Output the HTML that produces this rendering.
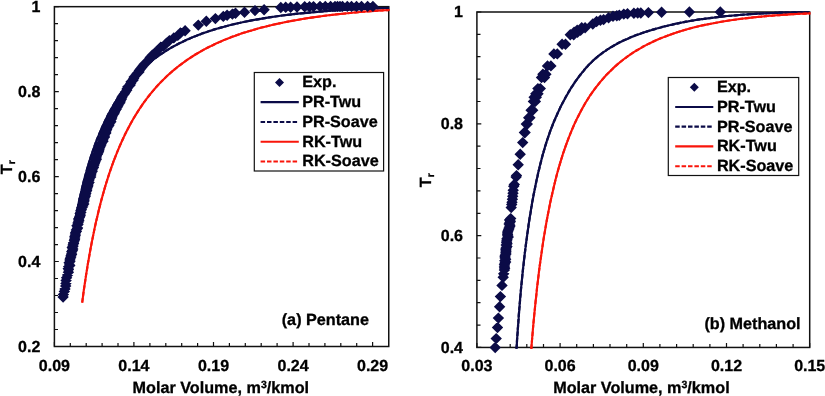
<!DOCTYPE html>
<html lang="en"><head><meta charset="utf-8"><title>Molar volume vs reduced temperature</title>
<style>
html,body{margin:0;padding:0;background:#fff;}
body{width:825px;height:396px;overflow:hidden;}
svg{display:block;}
text{font-family:"Liberation Sans",Arial,Helvetica,sans-serif;font-weight:bold;font-size:16px;fill:#000;stroke:#000;stroke-width:0.3px;text-rendering:geometricPrecision;}
.t2{font-size:16.2px;}
.ax{stroke:#111;stroke-width:1.5;fill:none;}
.tk{stroke:#111;stroke-width:1.2;fill:none;}
.nv{stroke:#0b0b47;stroke-width:2.2;fill:none;stroke-linejoin:round;}
.rd{stroke:#f9150a;stroke-width:2.1;fill:none;stroke-linejoin:round;}
.ds{stroke-dasharray:4.5 1.9;}
.dm{fill:#0b0b47;stroke:none;}
</style></head><body>
<svg width="825" height="396" viewBox="0 0 825 396">
<rect width="825" height="396" fill="#fff"/>
<rect class="ax" x="54.4" y="6.67" width="334.35" height="339.83"/>
<path class="tk" d="M70.3,346.5v-3.4M86.2,346.5v-3.4M102.1,346.5v-3.4M118.0,346.5v-3.4M149.9,346.5v-3.4M165.8,346.5v-3.4M181.7,346.5v-3.4M197.6,346.5v-3.4M229.4,346.5v-3.4M245.3,346.5v-3.4M261.2,346.5v-3.4M277.1,346.5v-3.4M309.0,346.5v-3.4M324.9,346.5v-3.4M340.8,346.5v-3.4M356.7,346.5v-3.4M54.4,346.5v-4.4M133.9,346.5v-4.4M213.5,346.5v-4.4M293.1,346.5v-4.4M372.6,346.5v-4.4M54.4,23.7h3.6M54.4,40.7h3.6M54.4,57.6h3.6M54.4,74.6h3.6M54.4,108.6h3.6M54.4,125.6h3.6M54.4,142.6h3.6M54.4,159.6h3.6M54.4,193.6h3.6M54.4,210.6h3.6M54.4,227.6h3.6M54.4,244.6h3.6M54.4,278.5h3.6M54.4,295.5h3.6M54.4,312.5h3.6M54.4,329.5h3.6M54.4,6.7h4.4M54.4,91.6h4.4M54.4,176.6h4.4M54.4,261.5h4.4M54.4,346.5h4.4"/>
<text x="54.4" y="371.4" text-anchor="middle">0.09</text>
<text x="133.9" y="371.4" text-anchor="middle">0.14</text>
<text x="213.5" y="371.4" text-anchor="middle">0.19</text>
<text x="293.1" y="371.4" text-anchor="middle">0.24</text>
<text x="372.6" y="371.4" text-anchor="middle">0.29</text>
<text x="40.3" y="11.7" text-anchor="end">1</text>
<text x="40.3" y="96.6" text-anchor="end">0.8</text>
<text x="40.3" y="181.6" text-anchor="end">0.6</text>
<text x="40.3" y="266.5" text-anchor="end">0.4</text>
<text x="40.3" y="351.5" text-anchor="end">0.2</text>
<rect class="ax" x="476.9" y="12.0" width="332.80" height="335.45"/>
<path class="tk" d="M493.5,347.45v-3.4M510.2,347.45v-3.4M526.8,347.45v-3.4M543.5,347.45v-3.4M576.7,347.45v-3.4M593.4,347.45v-3.4M610.0,347.45v-3.4M626.7,347.45v-3.4M659.9,347.45v-3.4M676.6,347.45v-3.4M693.2,347.45v-3.4M709.9,347.45v-3.4M743.1,347.45v-3.4M759.8,347.45v-3.4M776.4,347.45v-3.4M793.1,347.45v-3.4M476.9,347.45v-4.4M560.1,347.45v-4.4M643.3,347.45v-4.4M726.5,347.45v-4.4M809.7,347.45v-4.4M476.9,34.4h3.6M476.9,56.7h3.6M476.9,79.1h3.6M476.9,101.5h3.6M476.9,146.2h3.6M476.9,168.5h3.6M476.9,190.9h3.6M476.9,213.3h3.6M476.9,258.0h3.6M476.9,280.4h3.6M476.9,302.7h3.6M476.9,325.1h3.6M476.9,12.0h4.4M476.9,123.8h4.4M476.9,235.6h4.4M476.9,347.4h4.4"/>
<text x="476.9" y="371.4" text-anchor="middle">0.03</text>
<text x="560.1" y="371.4" text-anchor="middle">0.06</text>
<text x="643.3" y="371.4" text-anchor="middle">0.09</text>
<text x="726.5" y="371.4" text-anchor="middle">0.12</text>
<text x="809.7" y="371.4" text-anchor="middle">0.15</text>
<text x="463.0" y="17.2" text-anchor="end">1</text>
<text x="463.0" y="129.0" text-anchor="end">0.8</text>
<text x="463.0" y="240.8" text-anchor="end">0.6</text>
<text x="463.0" y="352.6" text-anchor="end">0.4</text>
<text class="t2" x="220.8" y="392.6" text-anchor="middle">Molar Volume, m<tspan font-size="10.5" dy="-4.8">3</tspan><tspan dy="4.8">/kmol</tspan></text>
<text class="t2" x="641.4" y="392.6" text-anchor="middle">Molar Volume, m<tspan font-size="10.5" dy="-4.8">3</tspan><tspan dy="4.8">/kmol</tspan></text>
<text class="t2" transform="translate(11.5,174.2) rotate(-90)">T<tspan font-size="10.5" dy="3.5">r</tspan></text>
<text class="t2" transform="translate(430.9,187.2) rotate(-90)">T<tspan font-size="10.5" dy="3.5">r</tspan></text>
<text class="t2" x="369" y="325.3" text-anchor="end">(a) Pentane</text>
<text class="t2" x="800.6" y="328.7" text-anchor="end">(b) Methanol</text>
<defs><clipPath id="ca"><rect x="40" y="0" width="349.45" height="360"/></clipPath><clipPath id="cb"><rect x="460" y="0" width="350.40" height="360"/></clipPath></defs>
<g clip-path="url(#ca)">
<path class="nv" d="M64.3,297.0 L64.4,296.4 L65.0,291.0 L65.6,285.6 L66.2,280.3 L66.9,274.9 L67.6,269.5 L68.3,264.1 L69.0,258.8 L69.8,253.4 L70.6,248.0 L71.4,242.6 L72.3,237.3 L73.2,231.9 L74.1,226.5 L75.1,221.1 L76.1,215.8 L77.2,210.4 L78.3,205.0 L79.4,199.6 L80.7,194.3 L81.9,188.9 L83.2,183.5 L84.6,178.1 L86.1,172.8 L87.6,167.4 L89.2,162.0 L90.9,156.6 L92.7,151.3 L94.6,145.9 L96.6,140.5 L98.8,135.1 L101.0,129.8 L103.4,124.4 L106.0,119.0 L108.7,113.6 L111.7,108.3 L114.8,102.9 L118.3,97.5 L122.0,92.1 L126.0,86.8 L130.4,81.4 L135.2,76.0 L140.5,70.6 L146.3,65.3 L152.9,59.9 L160.3,54.5 L168.8,49.1 L172.4,47.0 L174.1,46.1 L175.8,45.2 L177.6,44.2 L179.4,43.3 L181.3,42.4 L183.2,41.5 L185.2,40.5 L187.2,39.6 L189.3,38.7 L191.4,37.8 L193.7,36.8 L196.0,35.9 L198.3,35.0 L200.8,34.1 L203.3,33.1 L206.0,32.2 L208.7,31.3 L211.6,30.4 L214.5,29.4 L217.6,28.5 L220.8,27.6 L224.2,26.7 L227.7,25.7 L231.4,24.8 L235.2,23.9 L239.3,23.0 L243.5,22.0 L248.1,21.1 L252.8,20.2 L257.9,19.3 L263.4,18.3 L269.2,17.4 L275.5,16.5 L282.3,15.5 L289.7,14.6 L297.8,13.7 L306.9,12.8 L317.1,11.8 L328.8,10.9 L331.8,10.7 L332.9,10.6 L334.1,10.5 L335.3,10.5 L336.5,10.4 L337.7,10.3 L338.9,10.2 L340.2,10.1 L341.5,10.1 L342.8,10.0 L344.1,9.9 L345.5,9.8 L346.8,9.7 L348.2,9.7 L349.7,9.6 L351.1,9.5 L352.6,9.4 L354.1,9.3 L355.7,9.3 L357.3,9.2 L358.9,9.1 L360.5,9.0 L362.2,8.9 L364.0,8.9 L365.8,8.8 L367.6,8.7 L369.5,8.6 L371.4,8.5 L373.4,8.4 L375.4,8.4 L377.6,8.3 L379.7,8.2 L382.0,8.1 L384.3,8.0 L386.8,8.0 L389.3,7.9"/>
<path class="nv ds" d="M64.3,297.0 L64.4,296.4 L65.0,291.0 L65.6,285.6 L66.2,280.3 L66.9,274.9 L67.6,269.5 L68.3,264.1 L69.0,258.8 L69.8,253.4 L70.6,248.0 L71.4,242.6 L72.3,237.3 L73.2,231.9 L74.1,226.5 L75.1,221.1 L76.1,215.8 L77.2,210.4 L78.3,205.0 L79.4,199.6 L80.7,194.3 L81.9,188.9 L83.2,183.5 L84.6,178.1 L86.1,172.8 L87.6,167.4 L89.2,162.0 L90.9,156.6 L92.7,151.3 L94.6,145.9 L96.6,140.5 L98.8,135.1 L101.0,129.8 L103.4,124.4 L106.0,119.0 L108.7,113.6 L111.7,108.3 L114.8,102.9 L118.3,97.5 L122.0,92.1 L126.0,86.8 L130.4,81.4 L135.2,76.0 L140.5,70.6 L146.3,65.3 L152.9,59.9 L160.3,54.5 L168.8,49.1 L172.4,47.0 L174.1,46.1 L175.8,45.2 L177.6,44.2 L179.4,43.3 L181.3,42.4 L183.2,41.5 L185.2,40.5 L187.2,39.6 L189.3,38.7 L191.4,37.8 L193.7,36.8 L196.0,35.9 L198.3,35.0 L200.8,34.1 L203.3,33.1 L206.0,32.2 L208.7,31.3 L211.6,30.4 L214.5,29.4 L217.6,28.5 L220.8,27.6 L224.2,26.7 L227.7,25.7 L231.4,24.8 L235.2,23.9 L239.3,23.0 L243.5,22.0 L248.1,21.1 L252.8,20.2 L257.9,19.3 L263.4,18.3 L269.2,17.4 L275.5,16.5 L282.3,15.5 L289.7,14.6 L297.8,13.7 L306.9,12.8 L317.1,11.8 L328.8,10.9 L331.8,10.7 L332.9,10.6 L334.1,10.5 L335.3,10.5 L336.5,10.4 L337.7,10.3 L338.9,10.2 L340.2,10.1 L341.5,10.1 L342.8,10.0 L344.1,9.9 L345.5,9.8 L346.8,9.7 L348.2,9.7 L349.7,9.6 L351.1,9.5 L352.6,9.4 L354.1,9.3 L355.7,9.3 L357.3,9.2 L358.9,9.1 L360.5,9.0 L362.2,8.9 L364.0,8.9 L365.8,8.8 L367.6,8.7 L369.5,8.6 L371.4,8.5 L373.4,8.4 L375.4,8.4 L377.6,8.3 L379.7,8.2 L382.0,8.1 L384.3,8.0 L386.8,8.0 L389.3,7.9"/>
<path class="rd" d="M82.2,302.6 L82.3,301.8 L83.0,296.4 L83.7,291.0 L84.5,285.6 L85.3,280.3 L86.1,274.9 L87.0,269.5 L87.8,264.1 L88.8,258.8 L89.7,253.4 L90.7,248.0 L91.7,242.6 L92.8,237.3 L93.9,231.9 L95.0,226.5 L96.2,221.1 L97.5,215.8 L98.7,210.4 L100.1,205.0 L101.5,199.6 L103.0,194.3 L104.5,188.9 L106.1,183.5 L107.8,178.1 L109.5,172.8 L111.4,167.4 L113.3,162.0 L115.4,156.6 L117.5,151.3 L119.8,145.9 L122.2,140.5 L124.7,135.1 L127.4,129.8 L130.2,124.4 L133.2,119.0 L136.5,113.6 L139.9,108.3 L143.6,102.9 L147.6,97.5 L151.9,92.1 L156.5,86.8 L161.5,81.4 L167.0,76.0 L173.1,70.6 L179.7,65.3 L187.1,59.9 L195.4,54.5 L204.8,49.1 L208.9,47.0 L210.8,46.1 L212.7,45.2 L214.6,44.2 L216.6,43.3 L218.7,42.4 L220.8,41.5 L222.9,40.5 L225.1,39.6 L227.4,38.7 L229.8,37.8 L232.2,36.8 L234.7,35.9 L237.3,35.0 L240.0,34.1 L242.7,33.1 L245.6,32.2 L248.6,31.3 L251.6,30.4 L254.8,29.4 L258.1,28.5 L261.6,27.6 L265.2,26.7 L268.9,25.7 L272.9,24.8 L277.0,23.9 L281.3,23.0 L285.8,22.0 L290.6,21.1 L295.7,20.2 L301.0,19.3 L306.8,18.3 L312.9,17.4 L319.5,16.5 L326.6,15.5 L334.3,14.6 L342.7,13.7 L352.1,12.8 L362.7,11.8 L374.7,10.9 L377.7,10.7 L378.9,10.6 L380.1,10.5 L381.3,10.5 L382.6,10.4 L383.8,10.3 L385.1,10.2 L386.4,10.1 L387.7,10.1 L389.0,10.0 L390.4,9.9"/>
<path class="rd ds" d="M82.2,302.6 L82.3,301.8 L83.0,296.4 L83.7,291.0 L84.5,285.6 L85.3,280.3 L86.1,274.9 L87.0,269.5 L87.8,264.1 L88.8,258.8 L89.7,253.4 L90.7,248.0 L91.7,242.6 L92.8,237.3 L93.9,231.9 L95.0,226.5 L96.2,221.1 L97.5,215.8 L98.7,210.4 L100.1,205.0 L101.5,199.6 L103.0,194.3 L104.5,188.9 L106.1,183.5 L107.8,178.1 L109.5,172.8 L111.4,167.4 L113.3,162.0 L115.4,156.6 L117.5,151.3 L119.8,145.9 L122.2,140.5 L124.7,135.1 L127.4,129.8 L130.2,124.4 L133.2,119.0 L136.5,113.6 L139.9,108.3 L143.6,102.9 L147.6,97.5 L151.9,92.1 L156.5,86.8 L161.5,81.4 L167.0,76.0 L173.1,70.6 L179.7,65.3 L187.1,59.9 L195.4,54.5 L204.8,49.1 L208.9,47.0 L210.8,46.1 L212.7,45.2 L214.6,44.2 L216.6,43.3 L218.7,42.4 L220.8,41.5 L222.9,40.5 L225.1,39.6 L227.4,38.7 L229.8,37.8 L232.2,36.8 L234.7,35.9 L237.3,35.0 L240.0,34.1 L242.7,33.1 L245.6,32.2 L248.6,31.3 L251.6,30.4 L254.8,29.4 L258.1,28.5 L261.6,27.6 L265.2,26.7 L268.9,25.7 L272.9,24.8 L277.0,23.9 L281.3,23.0 L285.8,22.0 L290.6,21.1 L295.7,20.2 L301.0,19.3 L306.8,18.3 L312.9,17.4 L319.5,16.5 L326.6,15.5 L334.3,14.6 L342.7,13.7 L352.1,12.8 L362.7,11.8 L374.7,10.9 L377.7,10.7 L378.9,10.6 L380.1,10.5 L381.3,10.5 L382.6,10.4 L383.8,10.3 L385.1,10.2 L386.4,10.1 L387.7,10.1 L389.0,10.0 L390.4,9.9"/>
<path class="dm" d="M63.1,291.4l5.7,5.7l-5.7,5.7l-5.7,-5.7zM63.4,288.7l5.7,5.7l-5.7,5.7l-5.7,-5.7zM64.3,285.9l5.7,5.7l-5.7,5.7l-5.7,-5.7zM65.0,283.2l5.7,5.7l-5.7,5.7l-5.7,-5.7zM65.7,280.4l5.7,5.7l-5.7,5.7l-5.7,-5.7zM65.9,277.7l5.7,5.7l-5.7,5.7l-5.7,-5.7zM66.1,274.9l5.7,5.7l-5.7,5.7l-5.7,-5.7zM66.6,272.1l5.7,5.7l-5.7,5.7l-5.7,-5.7zM67.6,269.4l5.7,5.7l-5.7,5.7l-5.7,-5.7zM68.4,266.6l5.7,5.7l-5.7,5.7l-5.7,-5.7zM68.5,263.9l5.7,5.7l-5.7,5.7l-5.7,-5.7zM68.2,262.5l5.7,5.7l-5.7,5.7l-5.7,-5.7zM68.6,261.1l5.7,5.7l-5.7,5.7l-5.7,-5.7zM69.8,259.8l5.7,5.7l-5.7,5.7l-5.7,-5.7zM69.5,258.4l5.7,5.7l-5.7,5.7l-5.7,-5.7zM69.1,257.0l5.7,5.7l-5.7,5.7l-5.7,-5.7zM70.0,255.6l5.7,5.7l-5.7,5.7l-5.7,-5.7zM69.9,254.3l5.7,5.7l-5.7,5.7l-5.7,-5.7zM70.3,252.9l5.7,5.7l-5.7,5.7l-5.7,-5.7zM70.7,251.5l5.7,5.7l-5.7,5.7l-5.7,-5.7zM70.9,250.2l5.7,5.7l-5.7,5.7l-5.7,-5.7zM71.6,248.8l5.7,5.7l-5.7,5.7l-5.7,-5.7zM71.6,247.4l5.7,5.7l-5.7,5.7l-5.7,-5.7zM71.7,246.0l5.7,5.7l-5.7,5.7l-5.7,-5.7zM72.4,244.7l5.7,5.7l-5.7,5.7l-5.7,-5.7zM72.8,243.3l5.7,5.7l-5.7,5.7l-5.7,-5.7zM72.2,241.9l5.7,5.7l-5.7,5.7l-5.7,-5.7zM73.0,240.6l5.7,5.7l-5.7,5.7l-5.7,-5.7zM73.0,239.2l5.7,5.7l-5.7,5.7l-5.7,-5.7zM73.6,237.8l5.7,5.7l-5.7,5.7l-5.7,-5.7zM73.5,236.5l5.7,5.7l-5.7,5.7l-5.7,-5.7zM74.3,235.1l5.7,5.7l-5.7,5.7l-5.7,-5.7zM74.6,233.7l5.7,5.7l-5.7,5.7l-5.7,-5.7zM74.8,232.3l5.7,5.7l-5.7,5.7l-5.7,-5.7zM74.8,231.0l5.7,5.7l-5.7,5.7l-5.7,-5.7zM75.3,229.6l5.7,5.7l-5.7,5.7l-5.7,-5.7zM75.4,228.2l5.7,5.7l-5.7,5.7l-5.7,-5.7zM75.6,226.9l5.7,5.7l-5.7,5.7l-5.7,-5.7zM76.5,225.5l5.7,5.7l-5.7,5.7l-5.7,-5.7zM76.3,224.2l5.7,5.7l-5.7,5.7l-5.7,-5.7zM77.4,222.8l5.7,5.7l-5.7,5.7l-5.7,-5.7zM77.6,221.4l5.7,5.7l-5.7,5.7l-5.7,-5.7zM76.9,220.1l5.7,5.7l-5.7,5.7l-5.7,-5.7zM78.0,218.7l5.7,5.7l-5.7,5.7l-5.7,-5.7zM77.9,217.3l5.7,5.7l-5.7,5.7l-5.7,-5.7zM78.6,216.0l5.7,5.7l-5.7,5.7l-5.7,-5.7zM78.9,214.6l5.7,5.7l-5.7,5.7l-5.7,-5.7zM78.5,213.2l5.7,5.7l-5.7,5.7l-5.7,-5.7zM79.5,211.9l5.7,5.7l-5.7,5.7l-5.7,-5.7zM79.8,210.5l5.7,5.7l-5.7,5.7l-5.7,-5.7zM80.5,209.2l5.7,5.7l-5.7,5.7l-5.7,-5.7zM80.1,207.8l5.7,5.7l-5.7,5.7l-5.7,-5.7zM81.1,206.4l5.7,5.7l-5.7,5.7l-5.7,-5.7zM80.8,205.1l5.7,5.7l-5.7,5.7l-5.7,-5.7zM81.4,203.7l5.7,5.7l-5.7,5.7l-5.7,-5.7zM81.6,202.4l5.7,5.7l-5.7,5.7l-5.7,-5.7zM82.7,201.0l5.7,5.7l-5.7,5.7l-5.7,-5.7zM82.8,199.6l5.7,5.7l-5.7,5.7l-5.7,-5.7zM83.8,198.3l5.7,5.7l-5.7,5.7l-5.7,-5.7zM83.5,196.9l5.7,5.7l-5.7,5.7l-5.7,-5.7zM83.9,195.6l5.7,5.7l-5.7,5.7l-5.7,-5.7zM84.3,194.2l5.7,5.7l-5.7,5.7l-5.7,-5.7zM84.1,192.9l5.7,5.7l-5.7,5.7l-5.7,-5.7zM84.7,191.5l5.7,5.7l-5.7,5.7l-5.7,-5.7zM85.5,190.2l5.7,5.7l-5.7,5.7l-5.7,-5.7zM85.3,188.8l5.7,5.7l-5.7,5.7l-5.7,-5.7zM85.9,187.5l5.7,5.7l-5.7,5.7l-5.7,-5.7zM86.1,186.1l5.7,5.7l-5.7,5.7l-5.7,-5.7zM86.7,184.8l5.7,5.7l-5.7,5.7l-5.7,-5.7zM86.8,183.4l5.7,5.7l-5.7,5.7l-5.7,-5.7zM87.2,182.1l5.7,5.7l-5.7,5.7l-5.7,-5.7zM87.7,180.7l5.7,5.7l-5.7,5.7l-5.7,-5.7zM88.1,179.4l5.7,5.7l-5.7,5.7l-5.7,-5.7zM88.1,178.0l5.7,5.7l-5.7,5.7l-5.7,-5.7zM89.1,176.7l5.7,5.7l-5.7,5.7l-5.7,-5.7zM88.7,175.3l5.7,5.7l-5.7,5.7l-5.7,-5.7zM89.2,174.0l5.7,5.7l-5.7,5.7l-5.7,-5.7zM89.5,172.6l5.7,5.7l-5.7,5.7l-5.7,-5.7zM90.7,171.3l5.7,5.7l-5.7,5.7l-5.7,-5.7zM90.7,170.0l5.7,5.7l-5.7,5.7l-5.7,-5.7zM90.8,168.6l5.7,5.7l-5.7,5.7l-5.7,-5.7zM91.2,167.3l5.7,5.7l-5.7,5.7l-5.7,-5.7zM92.2,165.9l5.7,5.7l-5.7,5.7l-5.7,-5.7zM92.0,164.6l5.7,5.7l-5.7,5.7l-5.7,-5.7zM92.4,163.3l5.7,5.7l-5.7,5.7l-5.7,-5.7zM93.5,161.9l5.7,5.7l-5.7,5.7l-5.7,-5.7zM93.3,160.6l5.7,5.7l-5.7,5.7l-5.7,-5.7zM94.0,159.3l5.7,5.7l-5.7,5.7l-5.7,-5.7zM94.5,157.9l5.7,5.7l-5.7,5.7l-5.7,-5.7zM94.8,156.6l5.7,5.7l-5.7,5.7l-5.7,-5.7zM95.4,155.3l5.7,5.7l-5.7,5.7l-5.7,-5.7zM96.3,153.9l5.7,5.7l-5.7,5.7l-5.7,-5.7zM96.1,152.6l5.7,5.7l-5.7,5.7l-5.7,-5.7zM96.3,151.3l5.7,5.7l-5.7,5.7l-5.7,-5.7zM96.5,150.0l5.7,5.7l-5.7,5.7l-5.7,-5.7zM97.5,148.6l5.7,5.7l-5.7,5.7l-5.7,-5.7zM97.9,147.3l5.7,5.7l-5.7,5.7l-5.7,-5.7zM98.6,146.0l5.7,5.7l-5.7,5.7l-5.7,-5.7zM98.8,144.7l5.7,5.7l-5.7,5.7l-5.7,-5.7zM99.3,143.3l5.7,5.7l-5.7,5.7l-5.7,-5.7zM99.7,142.0l5.7,5.7l-5.7,5.7l-5.7,-5.7zM100.2,140.7l5.7,5.7l-5.7,5.7l-5.7,-5.7zM100.9,139.4l5.7,5.7l-5.7,5.7l-5.7,-5.7zM101.2,138.1l5.7,5.7l-5.7,5.7l-5.7,-5.7zM101.9,136.8l5.7,5.7l-5.7,5.7l-5.7,-5.7zM103.0,135.5l5.7,5.7l-5.7,5.7l-5.7,-5.7zM103.0,134.1l5.7,5.7l-5.7,5.7l-5.7,-5.7zM102.8,132.8l5.7,5.7l-5.7,5.7l-5.7,-5.7zM104.4,131.5l5.7,5.7l-5.7,5.7l-5.7,-5.7zM104.5,130.2l5.7,5.7l-5.7,5.7l-5.7,-5.7zM104.5,128.9l5.7,5.7l-5.7,5.7l-5.7,-5.7zM105.7,127.6l5.7,5.7l-5.7,5.7l-5.7,-5.7zM105.9,126.3l5.7,5.7l-5.7,5.7l-5.7,-5.7zM106.2,125.0l5.7,5.7l-5.7,5.7l-5.7,-5.7zM106.7,123.7l5.7,5.7l-5.7,5.7l-5.7,-5.7zM107.1,122.4l5.7,5.7l-5.7,5.7l-5.7,-5.7zM108.0,121.1l5.7,5.7l-5.7,5.7l-5.7,-5.7zM108.9,119.9l5.7,5.7l-5.7,5.7l-5.7,-5.7zM109.0,118.6l5.7,5.7l-5.7,5.7l-5.7,-5.7zM109.8,117.3l5.7,5.7l-5.7,5.7l-5.7,-5.7zM110.9,116.0l5.7,5.7l-5.7,5.7l-5.7,-5.7zM110.4,114.7l5.7,5.7l-5.7,5.7l-5.7,-5.7zM111.4,113.4l5.7,5.7l-5.7,5.7l-5.7,-5.7zM111.8,112.2l5.7,5.7l-5.7,5.7l-5.7,-5.7zM112.1,110.9l5.7,5.7l-5.7,5.7l-5.7,-5.7zM112.7,109.6l5.7,5.7l-5.7,5.7l-5.7,-5.7zM113.7,108.3l5.7,5.7l-5.7,5.7l-5.7,-5.7zM114.4,107.1l5.7,5.7l-5.7,5.7l-5.7,-5.7zM114.7,105.8l5.7,5.7l-5.7,5.7l-5.7,-5.7zM115.5,104.5l5.7,5.7l-5.7,5.7l-5.7,-5.7zM116.4,103.3l5.7,5.7l-5.7,5.7l-5.7,-5.7zM116.8,102.0l5.7,5.7l-5.7,5.7l-5.7,-5.7zM117.7,100.8l5.7,5.7l-5.7,5.7l-5.7,-5.7zM118.1,99.5l5.7,5.7l-5.7,5.7l-5.7,-5.7zM118.8,98.3l5.7,5.7l-5.7,5.7l-5.7,-5.7zM119.9,97.0l5.7,5.7l-5.7,5.7l-5.7,-5.7zM120.1,95.8l5.7,5.7l-5.7,5.7l-5.7,-5.7zM120.6,94.6l5.7,5.7l-5.7,5.7l-5.7,-5.7zM121.5,93.3l5.7,5.7l-5.7,5.7l-5.7,-5.7zM121.9,91.6l5.7,5.7l-5.7,5.7l-5.7,-5.7zM123.0,89.8l5.7,5.7l-5.7,5.7l-5.7,-5.7zM124.4,88.1l5.7,5.7l-5.7,5.7l-5.7,-5.7zM125.4,86.4l5.7,5.7l-5.7,5.7l-5.7,-5.7zM126.7,84.6l5.7,5.7l-5.7,5.7l-5.7,-5.7zM127.2,82.9l5.7,5.7l-5.7,5.7l-5.7,-5.7zM127.7,81.2l5.7,5.7l-5.7,5.7l-5.7,-5.7zM130.0,79.5l5.7,5.7l-5.7,5.7l-5.7,-5.7zM130.7,77.8l5.7,5.7l-5.7,5.7l-5.7,-5.7zM131.1,76.1l5.7,5.7l-5.7,5.7l-5.7,-5.7zM133.0,74.5l5.7,5.7l-5.7,5.7l-5.7,-5.7zM133.7,72.8l5.7,5.7l-5.7,5.7l-5.7,-5.7zM134.2,71.2l5.7,5.7l-5.7,5.7l-5.7,-5.7zM135.8,69.5l5.7,5.7l-5.7,5.7l-5.7,-5.7zM137.0,67.9l5.7,5.7l-5.7,5.7l-5.7,-5.7zM138.9,66.3l5.7,5.7l-5.7,5.7l-5.7,-5.7zM139.3,64.7l5.7,5.7l-5.7,5.7l-5.7,-5.7zM140.7,63.1l5.7,5.7l-5.7,5.7l-5.7,-5.7zM141.9,61.6l5.7,5.7l-5.7,5.7l-5.7,-5.7zM143.1,60.0l5.7,5.7l-5.7,5.7l-5.7,-5.7zM144.2,58.5l5.7,5.7l-5.7,5.7l-5.7,-5.7zM145.9,57.0l5.7,5.7l-5.7,5.7l-5.7,-5.7zM147.5,55.5l5.7,5.7l-5.7,5.7l-5.7,-5.7zM148.7,54.0l5.7,5.7l-5.7,5.7l-5.7,-5.7zM150.2,51.8l5.7,5.7l-5.7,5.7l-5.7,-5.7zM152.2,49.6l5.7,5.7l-5.7,5.7l-5.7,-5.7zM154.8,47.5l5.7,5.7l-5.7,5.7l-5.7,-5.7zM156.7,45.4l5.7,5.7l-5.7,5.7l-5.7,-5.7zM158.9,43.4l5.7,5.7l-5.7,5.7l-5.7,-5.7zM160.8,41.4l5.7,5.7l-5.7,5.7l-5.7,-5.7zM164.4,39.5l5.7,5.7l-5.7,5.7l-5.7,-5.7zM166.4,37.6l5.7,5.7l-5.7,5.7l-5.7,-5.7zM169.4,34.9l5.7,5.7l-5.7,5.7l-5.7,-5.7zM173.8,32.2l5.7,5.7l-5.7,5.7l-5.7,-5.7zM177.8,29.7l5.7,5.7l-5.7,5.7l-5.7,-5.7zM180.4,27.3l5.7,5.7l-5.7,5.7l-5.7,-5.7zM185.1,25.1l5.7,5.7l-5.7,5.7l-5.7,-5.7zM198.3,19.4l5.7,5.7l-5.7,5.7l-5.7,-5.7zM206.3,15.6l5.7,5.7l-5.7,5.7l-5.7,-5.7zM215.4,12.9l5.7,5.7l-5.7,5.7l-5.7,-5.7zM223.3,10.7l5.7,5.7l-5.7,5.7l-5.7,-5.7zM227.1,9.5l5.7,5.7l-5.7,5.7l-5.7,-5.7zM232.4,8.4l5.7,5.7l-5.7,5.7l-5.7,-5.7zM235.5,7.6l5.7,5.7l-5.7,5.7l-5.7,-5.7zM244.5,6.5l5.7,5.7l-5.7,5.7l-5.7,-5.7zM255.0,4.9l5.7,5.7l-5.7,5.7l-5.7,-5.7zM264.1,4.1l5.7,5.7l-5.7,5.7l-5.7,-5.7zM280.8,1.8l5.7,5.7l-5.7,5.7l-5.7,-5.7zM285.7,1.6l5.7,5.7l-5.7,5.7l-5.7,-5.7zM290.6,1.5l5.7,5.7l-5.7,5.7l-5.7,-5.7zM297.0,1.3l5.7,5.7l-5.7,5.7l-5.7,-5.7zM304.7,1.1l5.7,5.7l-5.7,5.7l-5.7,-5.7zM309.5,1.0l5.7,5.7l-5.7,5.7l-5.7,-5.7zM313.5,0.9l5.7,5.7l-5.7,5.7l-5.7,-5.7zM320.0,0.7l5.7,5.7l-5.7,5.7l-5.7,-5.7zM325.3,0.7l5.7,5.7l-5.7,5.7l-5.7,-5.7zM330.6,0.7l5.7,5.7l-5.7,5.7l-5.7,-5.7zM335.0,0.7l5.7,5.7l-5.7,5.7l-5.7,-5.7zM337.5,0.7l5.7,5.7l-5.7,5.7l-5.7,-5.7zM340.0,0.7l5.7,5.7l-5.7,5.7l-5.7,-5.7zM342.5,0.7l5.7,5.7l-5.7,5.7l-5.7,-5.7zM347.3,0.7l5.7,5.7l-5.7,5.7l-5.7,-5.7zM351.5,0.7l5.7,5.7l-5.7,5.7l-5.7,-5.7zM356.5,0.7l5.7,5.7l-5.7,5.7l-5.7,-5.7zM361.5,0.7l5.7,5.7l-5.7,5.7l-5.7,-5.7zM367.6,0.7l5.7,5.7l-5.7,5.7l-5.7,-5.7zM372.9,0.7l5.7,5.7l-5.7,5.7l-5.7,-5.7z"/>
</g>
<g clip-path="url(#cb)">
<path class="nv" d="M516.5,348.8 L516.6,346.8 L516.8,344.8 L516.9,342.8 L517.0,340.8 L517.1,338.8 L517.3,336.8 L517.4,334.8 L517.6,332.8 L517.7,330.9 L517.8,328.9 L518.0,326.9 L518.1,324.9 L518.3,322.9 L518.4,320.9 L518.6,318.9 L518.7,316.9 L518.8,314.9 L519.0,312.9 L519.2,310.9 L519.3,308.9 L519.5,306.9 L519.6,304.9 L519.8,302.9 L520.0,300.9 L520.1,298.9 L520.3,296.9 L520.5,295.0 L520.7,293.0 L520.8,291.0 L521.0,289.0 L521.2,287.0 L521.4,285.0 L521.6,283.0 L521.8,281.0 L522.0,279.0 L522.2,277.0 L522.4,275.0 L522.6,273.1 L522.8,271.1 L523.0,269.1 L523.2,267.1 L523.5,265.1 L523.7,263.1 L523.9,261.1 L524.1,259.1 L524.4,257.1 L524.6,255.2 L524.8,253.2 L525.1,251.2 L525.3,249.2 L525.6,247.2 L525.8,245.2 L526.1,243.2 L526.3,241.3 L526.6,239.3 L526.9,237.3 L527.1,235.3 L527.4,233.3 L527.7,231.4 L528.0,229.4 L528.3,227.4 L528.5,225.4 L528.8,223.4 L529.1,221.5 L529.4,219.5 L529.7,217.5 L530.0,215.5 L530.4,213.5 L530.7,211.6 L531.0,209.6 L531.3,207.6 L531.7,205.7 L532.0,203.7 L532.3,201.7 L532.7,199.7 L533.1,197.8 L533.4,195.8 L533.8,193.8 L534.2,191.9 L534.6,189.9 L535.0,188.0 L535.4,186.0 L535.8,184.0 L536.2,182.1 L536.6,180.1 L537.0,178.2 L537.5,176.2 L537.9,174.3 L538.3,172.3 L538.8,170.4 L539.3,168.4 L539.7,166.5 L540.2,164.5 L540.7,162.6 L541.2,160.7 L541.7,158.7 L542.2,156.8 L542.7,154.9 L543.3,152.9 L543.8,151.0 L544.4,149.1 L544.9,147.2 L545.5,145.3 L546.1,143.4 L546.7,141.5 L547.3,139.6 L548.0,137.7 L548.6,135.8 L549.3,133.9 L549.9,132.0 L550.6,130.1 L551.3,128.3 L552.1,126.4 L552.8,124.5 L553.5,122.7 L554.3,120.8 L555.1,119.0 L555.8,117.2 L556.7,115.4 L557.5,113.5 L558.3,111.7 L559.2,109.9 L560.0,108.1 L560.9,106.3 L561.8,104.5 L562.7,102.8 L563.7,101.0 L564.6,99.3 L565.5,97.5 L566.5,95.8 L567.5,94.1 L568.5,92.3 L569.5,90.6 L570.5,88.9 L571.6,87.2 L572.7,85.6 L573.8,83.9 L574.9,82.2 L576.0,80.6 L577.2,79.0 L578.4,77.4 L579.6,75.7 L580.8,74.2 L582.1,72.6 L583.4,71.1 L584.6,69.5 L585.9,68.0 L587.3,66.5 L588.6,65.0 L590.0,63.6 L591.5,62.2 L592.9,60.8 L594.4,59.4 L595.9,58.1 L597.4,56.8 L599.0,55.5 L600.6,54.3 L602.2,53.1 L603.8,51.9 L605.5,50.8 L607.1,49.6 L608.8,48.6 L610.5,47.5 L612.3,46.5 L614.0,45.5 L615.8,44.5 L617.5,43.5 L619.3,42.6 L621.1,41.7 L622.9,40.8 L624.7,40.0 L626.6,39.2 L628.4,38.4 L630.2,37.6 L632.1,36.8 L633.9,36.1 L635.8,35.3 L637.7,34.6 L639.6,34.0 L641.5,33.3 L643.4,32.6 L645.2,32.0 L647.2,31.4 L649.1,30.8 L651.0,30.2 L652.9,29.6 L654.8,29.1 L656.7,28.5 L658.7,28.0 L660.6,27.5 L662.5,26.9 L664.5,26.4 L666.4,26.0 L668.3,25.5 L670.3,25.0 L672.2,24.6 L674.2,24.1 L676.1,23.7 L678.1,23.3 L680.1,22.9 L682.0,22.5 L684.0,22.1 L686.0,21.7 L687.9,21.4 L689.9,21.0 L691.9,20.7 L693.8,20.4 L695.8,20.0 L697.8,19.7 L699.8,19.4 L701.8,19.1 L703.7,18.9 L705.7,18.6 L707.7,18.3 L709.7,18.1 L711.7,17.8 L713.7,17.6 L715.6,17.3 L717.6,17.1 L719.6,16.9 L721.6,16.7 L723.6,16.4 L725.6,16.2 L727.6,16.0 L729.6,15.8 L731.6,15.7 L733.6,15.5 L735.6,15.3 L737.5,15.1 L739.5,15.0 L741.5,14.8 L743.5,14.6 L745.5,14.5 L747.5,14.4 L749.5,14.2 L751.5,14.1 L753.5,14.0 L755.5,13.8 L757.5,13.7 L759.5,13.6 L761.5,13.5 L763.5,13.4 L765.5,13.3 L767.5,13.2 L769.5,13.1 L771.5,13.0 L773.5,13.0 L775.5,12.9 L777.5,12.8 L779.5,12.7 L781.5,12.7 L783.5,12.6 L785.5,12.6 L787.5,12.5 L789.5,12.5 L791.5,12.5 L793.5,12.4 L795.5,12.4 L797.5,12.4 L799.5,12.4 L801.5,12.3 L803.5,12.3 L805.5,12.3 L807.5,12.3 L809.5,12.3"/>
<path class="nv ds" d="M516.5,348.8 L516.6,346.8 L516.8,344.8 L516.9,342.8 L517.0,340.8 L517.1,338.8 L517.3,336.8 L517.4,334.8 L517.6,332.8 L517.7,330.9 L517.8,328.9 L518.0,326.9 L518.1,324.9 L518.3,322.9 L518.4,320.9 L518.6,318.9 L518.7,316.9 L518.8,314.9 L519.0,312.9 L519.2,310.9 L519.3,308.9 L519.5,306.9 L519.6,304.9 L519.8,302.9 L520.0,300.9 L520.1,298.9 L520.3,296.9 L520.5,295.0 L520.7,293.0 L520.8,291.0 L521.0,289.0 L521.2,287.0 L521.4,285.0 L521.6,283.0 L521.8,281.0 L522.0,279.0 L522.2,277.0 L522.4,275.0 L522.6,273.1 L522.8,271.1 L523.0,269.1 L523.2,267.1 L523.5,265.1 L523.7,263.1 L523.9,261.1 L524.1,259.1 L524.4,257.1 L524.6,255.2 L524.8,253.2 L525.1,251.2 L525.3,249.2 L525.6,247.2 L525.8,245.2 L526.1,243.2 L526.3,241.3 L526.6,239.3 L526.9,237.3 L527.1,235.3 L527.4,233.3 L527.7,231.4 L528.0,229.4 L528.3,227.4 L528.5,225.4 L528.8,223.4 L529.1,221.5 L529.4,219.5 L529.7,217.5 L530.0,215.5 L530.4,213.5 L530.7,211.6 L531.0,209.6 L531.3,207.6 L531.7,205.7 L532.0,203.7 L532.3,201.7 L532.7,199.7 L533.1,197.8 L533.4,195.8 L533.8,193.8 L534.2,191.9 L534.6,189.9 L535.0,188.0 L535.4,186.0 L535.8,184.0 L536.2,182.1 L536.6,180.1 L537.0,178.2 L537.5,176.2 L537.9,174.3 L538.3,172.3 L538.8,170.4 L539.3,168.4 L539.7,166.5 L540.2,164.5 L540.7,162.6 L541.2,160.7 L541.7,158.7 L542.2,156.8 L542.7,154.9 L543.3,152.9 L543.8,151.0 L544.4,149.1 L544.9,147.2 L545.5,145.3 L546.1,143.4 L546.7,141.5 L547.3,139.6 L548.0,137.7 L548.6,135.8 L549.3,133.9 L549.9,132.0 L550.6,130.1 L551.3,128.3 L552.1,126.4 L552.8,124.5 L553.5,122.7 L554.3,120.8 L555.1,119.0 L555.8,117.2 L556.7,115.4 L557.5,113.5 L558.3,111.7 L559.2,109.9 L560.0,108.1 L560.9,106.3 L561.8,104.5 L562.7,102.8 L563.7,101.0 L564.6,99.3 L565.5,97.5 L566.5,95.8 L567.5,94.1 L568.5,92.3 L569.5,90.6 L570.5,88.9 L571.6,87.2 L572.7,85.6 L573.8,83.9 L574.9,82.2 L576.0,80.6 L577.2,79.0 L578.4,77.4 L579.6,75.7 L580.8,74.2 L582.1,72.6 L583.4,71.1 L584.6,69.5 L585.9,68.0 L587.3,66.5 L588.6,65.0 L590.0,63.6 L591.5,62.2 L592.9,60.8 L594.4,59.4 L595.9,58.1 L597.4,56.8 L599.0,55.5 L600.6,54.3 L602.2,53.1 L603.8,51.9 L605.5,50.8 L607.1,49.6 L608.8,48.6 L610.5,47.5 L612.3,46.5 L614.0,45.5 L615.8,44.5 L617.5,43.5 L619.3,42.6 L621.1,41.7 L622.9,40.8 L624.7,40.0 L626.6,39.2 L628.4,38.4 L630.2,37.6 L632.1,36.8 L633.9,36.1 L635.8,35.3 L637.7,34.6 L639.6,34.0 L641.5,33.3 L643.4,32.6 L645.2,32.0 L647.2,31.4 L649.1,30.8 L651.0,30.2 L652.9,29.6 L654.8,29.1 L656.7,28.5 L658.7,28.0 L660.6,27.5 L662.5,26.9 L664.5,26.4 L666.4,26.0 L668.3,25.5 L670.3,25.0 L672.2,24.6 L674.2,24.1 L676.1,23.7 L678.1,23.3 L680.1,22.9 L682.0,22.5 L684.0,22.1 L686.0,21.7 L687.9,21.4 L689.9,21.0 L691.9,20.7 L693.8,20.4 L695.8,20.0 L697.8,19.7 L699.8,19.4 L701.8,19.1 L703.7,18.9 L705.7,18.6 L707.7,18.3 L709.7,18.1 L711.7,17.8 L713.7,17.6 L715.6,17.3 L717.6,17.1 L719.6,16.9 L721.6,16.7 L723.6,16.4 L725.6,16.2 L727.6,16.0 L729.6,15.8 L731.6,15.7 L733.6,15.5 L735.6,15.3 L737.5,15.1 L739.5,15.0 L741.5,14.8 L743.5,14.6 L745.5,14.5 L747.5,14.4 L749.5,14.2 L751.5,14.1 L753.5,14.0 L755.5,13.8 L757.5,13.7 L759.5,13.6 L761.5,13.5 L763.5,13.4 L765.5,13.3 L767.5,13.2 L769.5,13.1 L771.5,13.0 L773.5,13.0 L775.5,12.9 L777.5,12.8 L779.5,12.7 L781.5,12.7 L783.5,12.6 L785.5,12.6 L787.5,12.5 L789.5,12.5 L791.5,12.5 L793.5,12.4 L795.5,12.4 L797.5,12.4 L799.5,12.4 L801.5,12.3 L803.5,12.3 L805.5,12.3 L807.5,12.3 L809.5,12.3"/>
<path class="rd" d="M531.3,348.8 L531.7,343.8 L532.3,336.7 L532.9,329.7 L533.5,322.6 L534.2,315.5 L534.9,308.4 L535.6,301.4 L536.4,294.3 L537.1,287.2 L538.0,280.1 L538.8,273.1 L539.7,266.0 L540.7,258.9 L541.7,251.8 L542.7,244.8 L543.8,237.7 L545.0,230.6 L546.2,223.5 L547.5,216.5 L548.9,209.4 L550.3,202.3 L551.9,195.2 L553.5,188.2 L555.2,181.1 L557.0,174.0 L559.0,166.9 L561.1,159.9 L563.3,152.8 L565.8,145.7 L568.4,138.6 L571.2,131.6 L574.2,124.5 L577.6,117.4 L581.2,110.4 L585.2,103.3 L589.6,96.2 L594.6,89.1 L600.1,82.1 L606.3,75.0 L613.5,67.9 L616.6,65.1 L618.0,63.9 L619.4,62.7 L620.9,61.5 L622.5,60.2 L624.0,59.0 L625.7,57.8 L627.3,56.6 L629.1,55.4 L630.9,54.1 L632.7,52.9 L634.6,51.7 L636.5,50.5 L638.6,49.3 L640.7,48.1 L642.8,46.8 L645.1,45.6 L647.4,44.4 L649.9,43.2 L652.4,42.0 L655.0,40.7 L657.8,39.5 L660.7,38.3 L663.7,37.1 L666.8,35.9 L670.1,34.7 L673.6,33.4 L677.3,32.2 L681.2,31.0 L685.4,29.8 L689.8,28.6 L694.5,27.3 L699.5,26.1 L705.0,24.9 L710.9,23.7 L717.3,22.5 L724.4,21.2 L732.4,20.0 L741.3,18.8 L751.6,17.6 L754.2,17.3 L755.2,17.2 L756.2,17.1 L757.2,17.0 L758.3,16.9 L759.4,16.8 L760.5,16.7 L761.6,16.6 L762.7,16.5 L763.9,16.4 L765.0,16.3 L766.2,16.1 L767.4,16.0 L768.7,15.9 L769.9,15.8 L771.2,15.7 L772.5,15.6 L773.9,15.5 L775.2,15.4 L776.6,15.3 L778.1,15.2 L779.5,15.1 L781.0,15.0 L782.6,14.9 L784.2,14.8 L785.8,14.7 L787.4,14.6 L789.2,14.4 L790.9,14.3 L792.7,14.2 L794.6,14.1 L796.5,14.0 L798.5,13.9 L800.6,13.8 L802.8,13.7 L805.0,13.6 L807.4,13.5 L809.8,13.4 L812.4,13.3"/>
<path class="rd ds" d="M531.3,348.8 L531.7,343.8 L532.3,336.7 L532.9,329.7 L533.5,322.6 L534.2,315.5 L534.9,308.4 L535.6,301.4 L536.4,294.3 L537.1,287.2 L538.0,280.1 L538.8,273.1 L539.7,266.0 L540.7,258.9 L541.7,251.8 L542.7,244.8 L543.8,237.7 L545.0,230.6 L546.2,223.5 L547.5,216.5 L548.9,209.4 L550.3,202.3 L551.9,195.2 L553.5,188.2 L555.2,181.1 L557.0,174.0 L559.0,166.9 L561.1,159.9 L563.3,152.8 L565.8,145.7 L568.4,138.6 L571.2,131.6 L574.2,124.5 L577.6,117.4 L581.2,110.4 L585.2,103.3 L589.6,96.2 L594.6,89.1 L600.1,82.1 L606.3,75.0 L613.5,67.9 L616.6,65.1 L618.0,63.9 L619.4,62.7 L620.9,61.5 L622.5,60.2 L624.0,59.0 L625.7,57.8 L627.3,56.6 L629.1,55.4 L630.9,54.1 L632.7,52.9 L634.6,51.7 L636.5,50.5 L638.6,49.3 L640.7,48.1 L642.8,46.8 L645.1,45.6 L647.4,44.4 L649.9,43.2 L652.4,42.0 L655.0,40.7 L657.8,39.5 L660.7,38.3 L663.7,37.1 L666.8,35.9 L670.1,34.7 L673.6,33.4 L677.3,32.2 L681.2,31.0 L685.4,29.8 L689.8,28.6 L694.5,27.3 L699.5,26.1 L705.0,24.9 L710.9,23.7 L717.3,22.5 L724.4,21.2 L732.4,20.0 L741.3,18.8 L751.6,17.6 L754.2,17.3 L755.2,17.2 L756.2,17.1 L757.2,17.0 L758.3,16.9 L759.4,16.8 L760.5,16.7 L761.6,16.6 L762.7,16.5 L763.9,16.4 L765.0,16.3 L766.2,16.1 L767.4,16.0 L768.7,15.9 L769.9,15.8 L771.2,15.7 L772.5,15.6 L773.9,15.5 L775.2,15.4 L776.6,15.3 L778.1,15.2 L779.5,15.1 L781.0,15.0 L782.6,14.9 L784.2,14.8 L785.8,14.7 L787.4,14.6 L789.2,14.4 L790.9,14.3 L792.7,14.2 L794.6,14.1 L796.5,14.0 L798.5,13.9 L800.6,13.8 L802.8,13.7 L805.0,13.6 L807.4,13.5 L809.8,13.4 L812.4,13.3"/>
<path class="dm" d="M495.2,341.8l5.7,5.7l-5.7,5.7l-5.7,-5.7zM496.2,332.9l5.7,5.7l-5.7,5.7l-5.7,-5.7zM497.5,321.8l5.7,5.7l-5.7,5.7l-5.7,-5.7zM498.4,312.4l5.7,5.7l-5.7,5.7l-5.7,-5.7zM499.6,301.0l5.7,5.7l-5.7,5.7l-5.7,-5.7zM500.4,290.9l5.7,5.7l-5.7,5.7l-5.7,-5.7zM502.0,279.7l5.7,5.7l-5.7,5.7l-5.7,-5.7zM503.2,271.6l5.7,5.7l-5.7,5.7l-5.7,-5.7zM503.7,268.0l5.7,5.7l-5.7,5.7l-5.7,-5.7zM504.4,264.3l5.7,5.7l-5.7,5.7l-5.7,-5.7zM504.7,263.0l5.7,5.7l-5.7,5.7l-5.7,-5.7zM504.5,261.6l5.7,5.7l-5.7,5.7l-5.7,-5.7zM504.3,260.3l5.7,5.7l-5.7,5.7l-5.7,-5.7zM504.4,259.0l5.7,5.7l-5.7,5.7l-5.7,-5.7zM504.8,257.6l5.7,5.7l-5.7,5.7l-5.7,-5.7zM505.7,256.3l5.7,5.7l-5.7,5.7l-5.7,-5.7zM504.8,255.0l5.7,5.7l-5.7,5.7l-5.7,-5.7zM505.7,253.6l5.7,5.7l-5.7,5.7l-5.7,-5.7zM505.1,252.3l5.7,5.7l-5.7,5.7l-5.7,-5.7zM505.0,251.0l5.7,5.7l-5.7,5.7l-5.7,-5.7zM505.2,249.6l5.7,5.7l-5.7,5.7l-5.7,-5.7zM506.0,248.3l5.7,5.7l-5.7,5.7l-5.7,-5.7zM505.8,247.0l5.7,5.7l-5.7,5.7l-5.7,-5.7zM506.0,245.6l5.7,5.7l-5.7,5.7l-5.7,-5.7zM505.9,244.3l5.7,5.7l-5.7,5.7l-5.7,-5.7zM505.8,243.3l5.7,5.7l-5.7,5.7l-5.7,-5.7zM506.3,242.0l5.7,5.7l-5.7,5.7l-5.7,-5.7zM507.0,240.7l5.7,5.7l-5.7,5.7l-5.7,-5.7zM506.2,239.3l5.7,5.7l-5.7,5.7l-5.7,-5.7zM507.1,238.0l5.7,5.7l-5.7,5.7l-5.7,-5.7zM506.6,236.7l5.7,5.7l-5.7,5.7l-5.7,-5.7zM506.7,235.4l5.7,5.7l-5.7,5.7l-5.7,-5.7zM507.1,234.0l5.7,5.7l-5.7,5.7l-5.7,-5.7zM507.0,232.7l5.7,5.7l-5.7,5.7l-5.7,-5.7zM508.3,231.4l5.7,5.7l-5.7,5.7l-5.7,-5.7zM507.7,230.1l5.7,5.7l-5.7,5.7l-5.7,-5.7zM507.6,228.8l5.7,5.7l-5.7,5.7l-5.7,-5.7zM507.5,227.4l5.7,5.7l-5.7,5.7l-5.7,-5.7zM507.8,226.1l5.7,5.7l-5.7,5.7l-5.7,-5.7zM508.2,224.8l5.7,5.7l-5.7,5.7l-5.7,-5.7zM508.7,223.5l5.7,5.7l-5.7,5.7l-5.7,-5.7zM509.1,222.2l5.7,5.7l-5.7,5.7l-5.7,-5.7zM509.8,220.8l5.7,5.7l-5.7,5.7l-5.7,-5.7zM509.9,219.5l5.7,5.7l-5.7,5.7l-5.7,-5.7zM509.1,218.2l5.7,5.7l-5.7,5.7l-5.7,-5.7zM509.8,216.9l5.7,5.7l-5.7,5.7l-5.7,-5.7zM510.4,215.5l5.7,5.7l-5.7,5.7l-5.7,-5.7zM509.5,214.2l5.7,5.7l-5.7,5.7l-5.7,-5.7zM510.7,212.9l5.7,5.7l-5.7,5.7l-5.7,-5.7zM511.2,201.8l5.7,5.7l-5.7,5.7l-5.7,-5.7zM511.7,198.8l5.7,5.7l-5.7,5.7l-5.7,-5.7zM512.0,196.6l5.7,5.7l-5.7,5.7l-5.7,-5.7zM512.4,193.6l5.7,5.7l-5.7,5.7l-5.7,-5.7zM512.7,190.6l5.7,5.7l-5.7,5.7l-5.7,-5.7zM513.0,187.5l5.7,5.7l-5.7,5.7l-5.7,-5.7zM513.2,184.5l5.7,5.7l-5.7,5.7l-5.7,-5.7zM513.7,180.5l5.7,5.7l-5.7,5.7l-5.7,-5.7zM514.3,178.8l5.7,5.7l-5.7,5.7l-5.7,-5.7zM516.5,169.9l5.7,5.7l-5.7,5.7l-5.7,-5.7zM516.1,171.3l5.7,5.7l-5.7,5.7l-5.7,-5.7zM518.2,159.1l5.7,5.7l-5.7,5.7l-5.7,-5.7zM520.2,148.5l5.7,5.7l-5.7,5.7l-5.7,-5.7zM522.7,136.9l5.7,5.7l-5.7,5.7l-5.7,-5.7zM524.4,126.8l5.7,5.7l-5.7,5.7l-5.7,-5.7zM525.1,126.8l5.7,5.7l-5.7,5.7l-5.7,-5.7zM526.3,118.4l5.7,5.7l-5.7,5.7l-5.7,-5.7zM527.3,118.4l5.7,5.7l-5.7,5.7l-5.7,-5.7zM528.7,112.1l5.7,5.7l-5.7,5.7l-5.7,-5.7zM529.9,112.1l5.7,5.7l-5.7,5.7l-5.7,-5.7zM531.1,104.5l5.7,5.7l-5.7,5.7l-5.7,-5.7zM532.7,104.5l5.7,5.7l-5.7,5.7l-5.7,-5.7zM533.4,95.7l5.7,5.7l-5.7,5.7l-5.7,-5.7zM535.4,95.7l5.7,5.7l-5.7,5.7l-5.7,-5.7zM534.1,91.5l5.7,5.7l-5.7,5.7l-5.7,-5.7zM536.3,91.5l5.7,5.7l-5.7,5.7l-5.7,-5.7zM535.8,88.1l5.7,5.7l-5.7,5.7l-5.7,-5.7zM538.0,88.1l5.7,5.7l-5.7,5.7l-5.7,-5.7zM537.9,82.9l5.7,5.7l-5.7,5.7l-5.7,-5.7zM540.3,82.9l5.7,5.7l-5.7,5.7l-5.7,-5.7zM541.5,71.8l5.7,5.7l-5.7,5.7l-5.7,-5.7zM544.5,71.8l5.7,5.7l-5.7,5.7l-5.7,-5.7zM542.9,68.5l5.7,5.7l-5.7,5.7l-5.7,-5.7zM545.9,68.5l5.7,5.7l-5.7,5.7l-5.7,-5.7zM547.5,60.2l5.7,5.7l-5.7,5.7l-5.7,-5.7zM550.9,60.2l5.7,5.7l-5.7,5.7l-5.7,-5.7zM553.9,48.2l5.7,5.7l-5.7,5.7l-5.7,-5.7zM557.3,48.2l5.7,5.7l-5.7,5.7l-5.7,-5.7zM562.1,38.6l5.7,5.7l-5.7,5.7l-5.7,-5.7zM565.5,38.6l5.7,5.7l-5.7,5.7l-5.7,-5.7zM570.3,29.0l5.7,5.7l-5.7,5.7l-5.7,-5.7zM573.7,29.0l5.7,5.7l-5.7,5.7l-5.7,-5.7zM574.1,26.5l5.7,5.7l-5.7,5.7l-5.7,-5.7zM577.5,26.5l5.7,5.7l-5.7,5.7l-5.7,-5.7zM577.2,24.6l5.7,5.7l-5.7,5.7l-5.7,-5.7zM580.6,24.6l5.7,5.7l-5.7,5.7l-5.7,-5.7zM581.7,22.1l5.7,5.7l-5.7,5.7l-5.7,-5.7zM585.1,22.1l5.7,5.7l-5.7,5.7l-5.7,-5.7zM592.8,18.3l5.7,5.7l-5.7,5.7l-5.7,-5.7zM596.6,15.8l5.7,5.7l-5.7,5.7l-5.7,-5.7zM600.4,14.5l5.7,5.7l-5.7,5.7l-5.7,-5.7zM603.6,13.9l5.7,5.7l-5.7,5.7l-5.7,-5.7zM608.6,12.0l5.7,5.7l-5.7,5.7l-5.7,-5.7zM613.0,10.5l5.7,5.7l-5.7,5.7l-5.7,-5.7zM616.8,10.1l5.7,5.7l-5.7,5.7l-5.7,-5.7zM619.3,9.5l5.7,5.7l-5.7,5.7l-5.7,-5.7zM623.8,8.4l5.7,5.7l-5.7,5.7l-5.7,-5.7zM627.5,8.0l5.7,5.7l-5.7,5.7l-5.7,-5.7zM633.9,7.6l5.7,5.7l-5.7,5.7l-5.7,-5.7zM637.7,7.3l5.7,5.7l-5.7,5.7l-5.7,-5.7zM640.8,7.3l5.7,5.7l-5.7,5.7l-5.7,-5.7zM648.4,6.9l5.7,5.7l-5.7,5.7l-5.7,-5.7zM661.6,6.5l5.7,5.7l-5.7,5.7l-5.7,-5.7zM689.4,6.3l5.7,5.7l-5.7,5.7l-5.7,-5.7zM720.3,6.3l5.7,5.7l-5.7,5.7l-5.7,-5.7z"/>
</g>
<rect x="254.3" y="72.5" width="129.3" height="98.5" fill="#fff" stroke="#111" stroke-width="1.2"/>
<text class="t2" x="302.2" y="87.2">Exp.</text>
<path class="dm" d="M279.5,77.9l4.5,4.5l-4.5,4.5l-4.5,-4.5z"/>
<text class="t2" x="302.2" y="107.0">PR-Twu</text>
<path class="nv" d="M260.6,102.2H298.8"/>
<text class="t2" x="302.2" y="126.8">PR-Soave</text>
<path class="nv ds" d="M260.6,122.0H298.8"/>
<text class="t2" x="302.2" y="146.6">RK-Twu</text>
<path class="rd" d="M260.6,141.7H298.8"/>
<text class="t2" x="302.2" y="166.4">RK-Soave</text>
<path class="rd ds" d="M260.6,161.5H298.8"/>
<rect x="668.3" y="77.5" width="130.4" height="98.0" fill="#fff" stroke="#111" stroke-width="1.2"/>
<text class="t2" x="716.9" y="92.0">Exp.</text>
<path class="dm" d="M694.3,82.7l4.5,4.5l-4.5,4.5l-4.5,-4.5z"/>
<text class="t2" x="716.9" y="111.8">PR-Twu</text>
<path class="nv" d="M675.2,107.0H713.3"/>
<text class="t2" x="716.9" y="131.6">PR-Soave</text>
<path class="nv ds" d="M675.2,126.7H713.3"/>
<text class="t2" x="716.9" y="151.3">RK-Twu</text>
<path class="rd" d="M675.2,146.4H713.3"/>
<text class="t2" x="716.9" y="171.0">RK-Soave</text>
<path class="rd ds" d="M675.2,166.2H713.3"/>
</svg>
</body></html>
